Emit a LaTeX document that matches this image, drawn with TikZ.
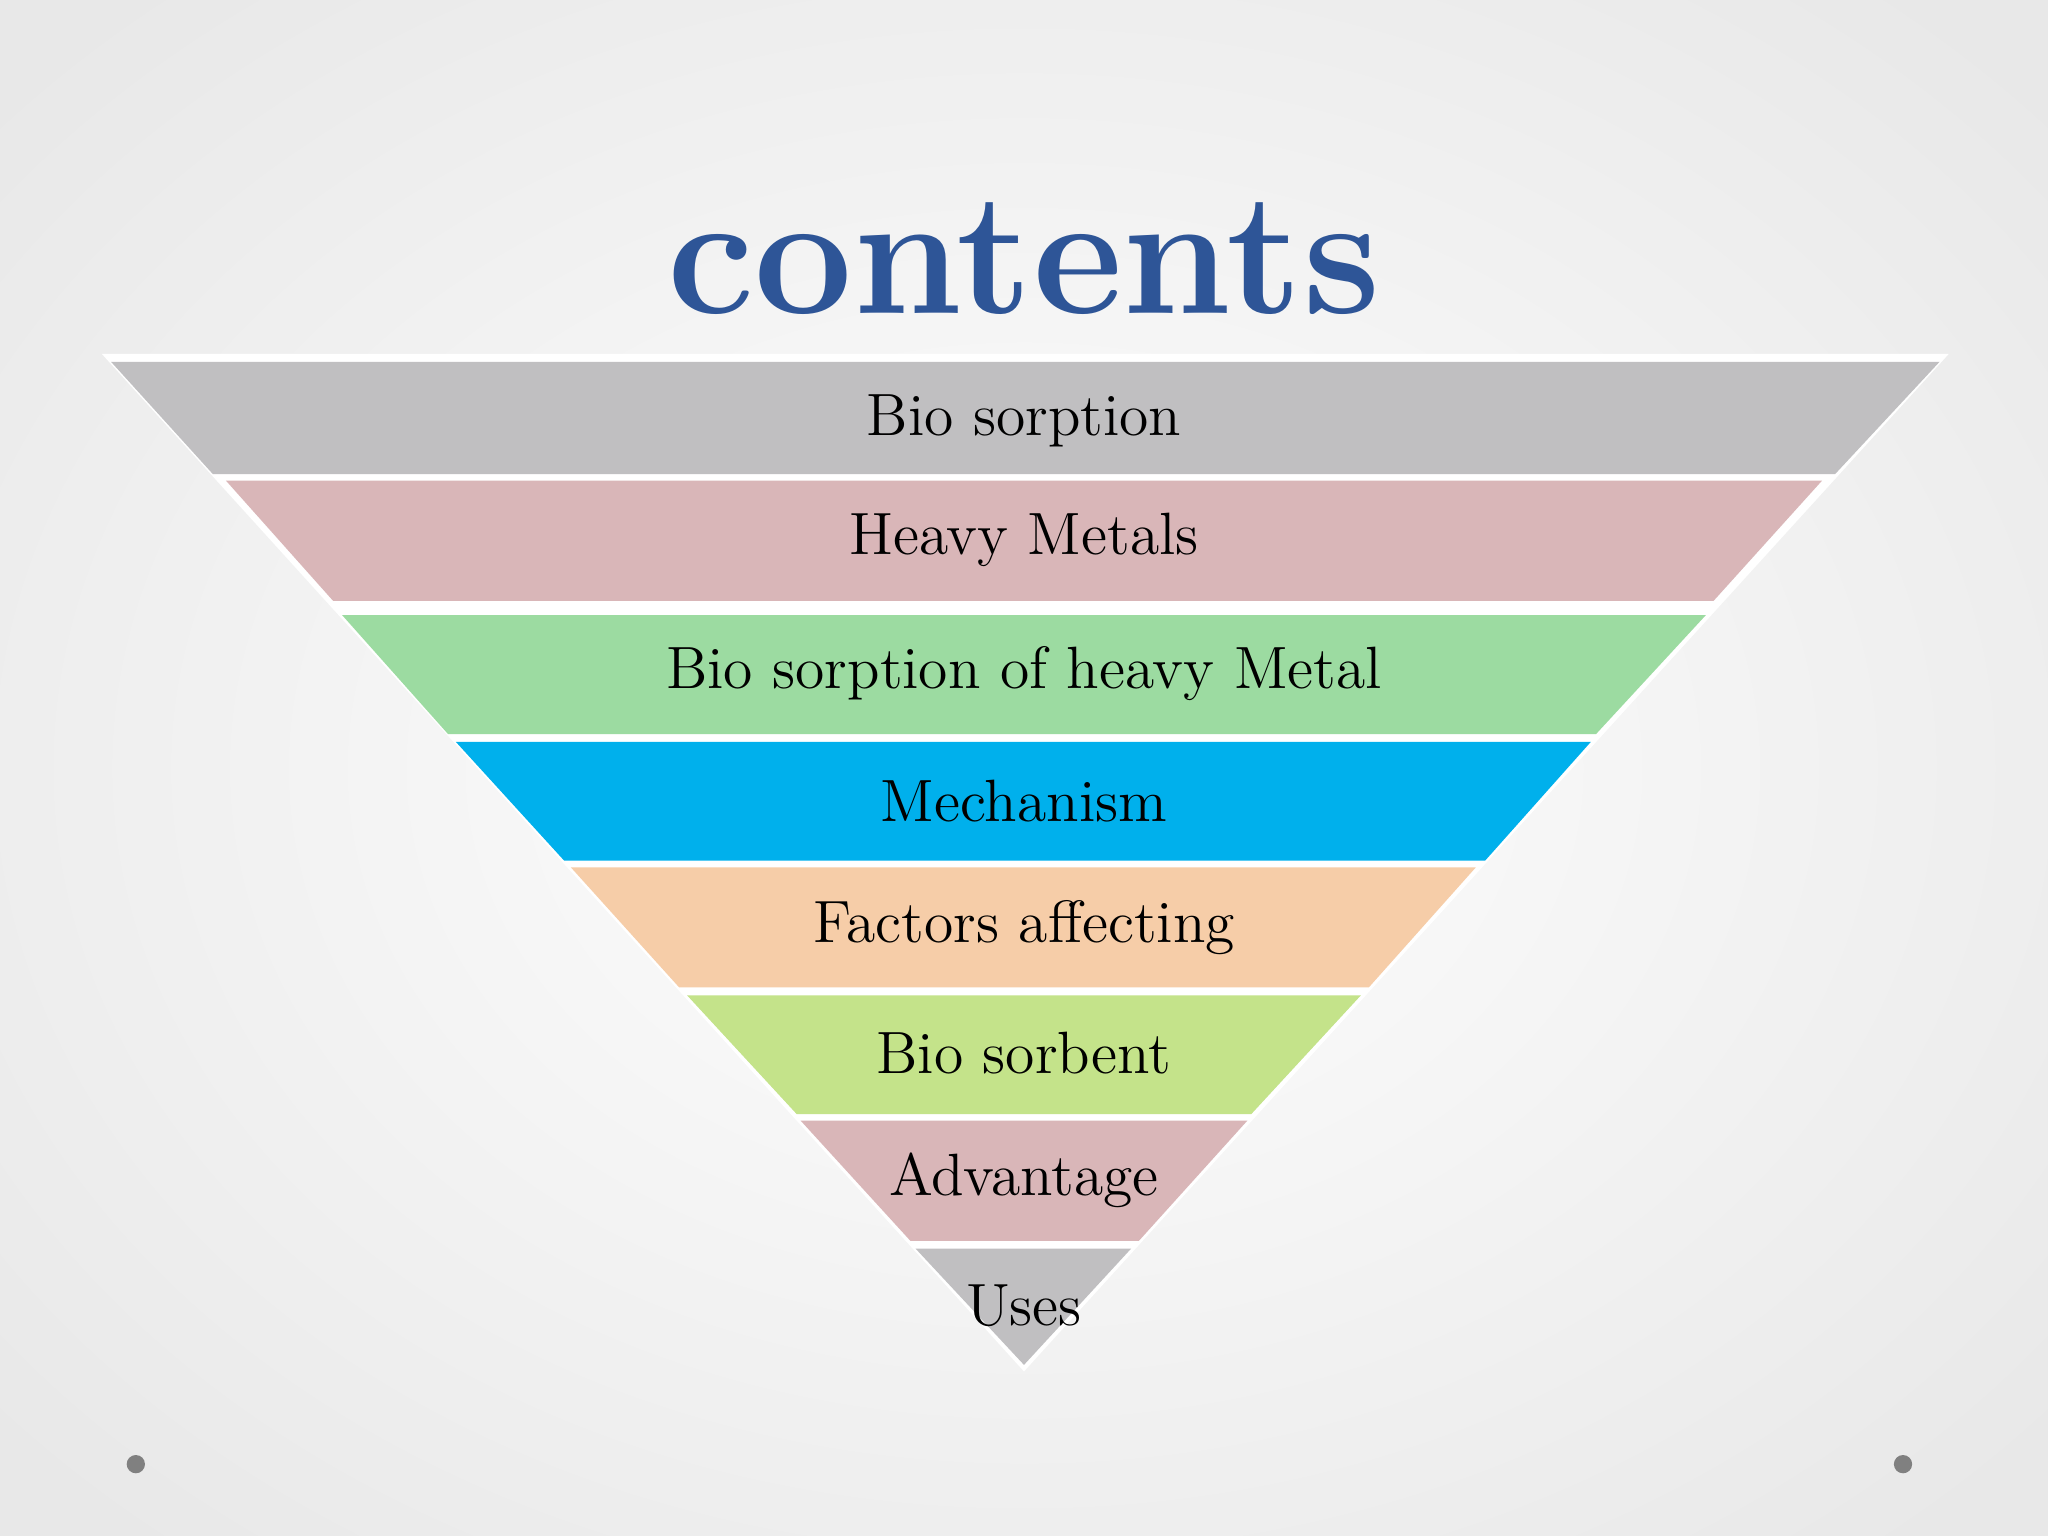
\documentclass[tikz,border=0pt]{standalone}
\definecolor{cA}{HTML}{C0BFC1}
\definecolor{cB}{HTML}{D9B6B8}
\definecolor{cC}{HTML}{9CDBA1}
\definecolor{cD}{HTML}{00B0EC}
\definecolor{cE}{HTML}{F6CDA8}
\definecolor{cF}{HTML}{C4E38A}
\definecolor{ctitle}{HTML}{2E5597}
\tikzset{band/.style={fill=#1,draw=none},
 lbl/.style={font=\fontsize{13}{15}\selectfont,text=black}}
\begin{document}
\begin{tikzpicture}[x=0.01cm,y=-0.01cm]
\useasboundingbox (0,0) rectangle (1568,1176);
\shade[inner color=white,outer color=black!9] (-250,-200) rectangle (1818,1376);
\fill[white] (78,271) -- (1492,271) -- (784,1050) -- cycle;
\fill[band=cA] (85,277) -- (1485,277) -- (1405,363) -- (163,363) -- cycle;
\fill[band=cB] (173,368) -- (1395,368) -- (1312,460) -- (255,460) -- cycle;
\fill[band=cC] (262,471) -- (1306,471) -- (1222,562) -- (343,562) -- cycle;
\fill[band=cD] (349,568) -- (1218,568) -- (1137,659) -- (432,659) -- cycle;
\fill[band=cE] (437,664) -- (1130,664) -- (1048,756) -- (520,756) -- cycle;
\fill[band=cF] (526,762) -- (1042,762) -- (958,853) -- (610,853) -- cycle;
\fill[band=cB] (613,858) -- (955,858) -- (872,950) -- (697,950) -- cycle;
\fill[band=cA] (701,956) -- (866,956) -- (784,1045) -- cycle;
\node[font=\fontsize{38}{40}\selectfont\bfseries,text=ctitle] (title) at (784,198) {contents};
\node[lbl] (t1) at (784,322) {Bio sorption};
\node[lbl] (t2) at (784,413) {Heavy Metals};
\node[lbl] (t3) at (784,516) {Bio sorption of heavy Metal};
\node[lbl] (t4) at (784,613) {Mechanism};
\node[lbl] (t5) at (784,710) {Factors affecting};
\node[lbl] (t6) at (784,806) {Bio sorbent};
\node[lbl] (t7) at (784,904) {Advantage};
\node[lbl] (t8) at (784,1000) {Uses};
\fill[gray] (104,1121) circle (7);
\fill[gray] (1457,1121) circle (7);
\end{tikzpicture}
\end{document}
